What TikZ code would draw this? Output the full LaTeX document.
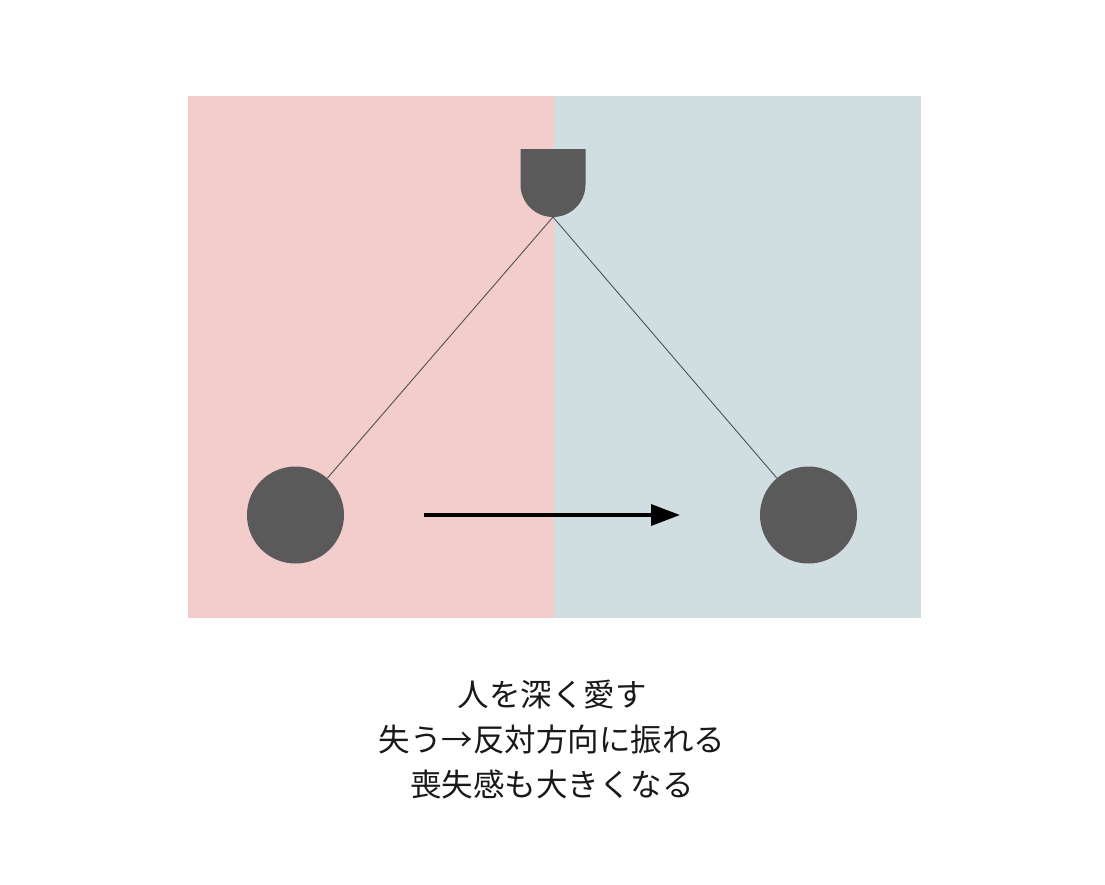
\documentclass[tikz,border=0pt]{standalone}
\usepackage{fontspec}
\newfontfamily\cjk{Noto Sans CJK JP}
\usetikzlibrary{arrows.meta}
\definecolor{pinkbg}{HTML}{F3CCCC}
\definecolor{bluebg}{HTML}{D1DEE1}
\definecolor{ballgray}{HTML}{5A5A5A}
\begin{document}
\begin{tikzpicture}[x=1pt,y=-1pt,
  ball/.style={circle,fill=ballgray,minimum size=97pt,inner sep=0pt},
  string/.style={draw=ballgray!90!black,line width=0.9pt},
  caption/.style={font=\cjk\fontsize{31.5}{45}\selectfont,align=center,text=black!90}]
\useasboundingbox[fill=white] (0,0) rectangle (1105,884);
\fill[pinkbg] (188,96) rectangle (554,618);
\fill[bluebg] (554,96) rectangle (921,618);
% pivot cup
\fill[ballgray] (520.5,149) -- (585.5,149) -- (585.5,184.5) arc[start angle=0,end angle=180,radius=32.5] -- cycle;
\coordinate (pivot) at (553,217);
\node[ball] (left) at (295.5,515) {};
\node[ball] (right) at (808.5,515) {};
\draw[string] (pivot) -- (left);
\draw[string] (pivot) -- (right);
\coordinate (astart) at (424,515);
\coordinate (aend) at (680,515);
\draw[line width=3.5pt,-{Triangle[length=29pt,width=21pt]}] (astart) -- (aend);
\node[caption] (text) at (552,740) {人を深く愛す\\失う→反対方向に振れる\\喪失感も大きくなる};
\end{tikzpicture}
\end{document}
